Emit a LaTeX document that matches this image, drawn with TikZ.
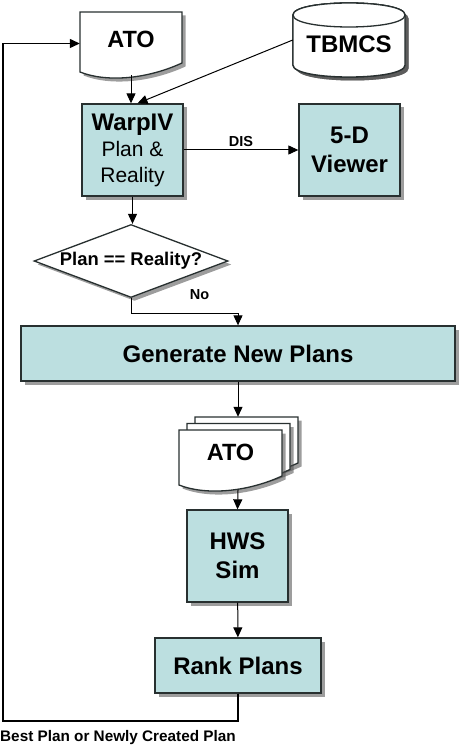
\documentclass[tikz,border=0pt]{standalone}
\usepackage{fontspec}
\setmainfont{Liberation Sans}
\usetikzlibrary{arrows.meta,shapes.geometric,shadows,calc}
\definecolor{boxfill}{RGB}{188,223,224}
\definecolor{rim}{RGB}{40,48,48}
\tikzset{
    flow/.style={-{Triangle[length=10pt,width=9pt]}, line width=1pt},
    boxshadow/.style={drop shadow={shadow xshift=3.5pt, shadow yshift=-3.5pt, fill=black!70, opacity=.55}},
    stepbox/.style={draw=rim, line width=1.3pt, fill=boxfill, boxshadow, align=center, inner sep=0pt,
        font=\bfseries\fontsize{24}{29}\selectfont},
    docline/.style={draw=rim, line width=1.3pt, fill=white, boxshadow},
    doctext/.style={inner sep=0pt, font=\bfseries\fontsize{23.5}{28}\selectfont},
    lbl/.style={inner sep=0pt, font=\bfseries\fontsize{14.5}{17}\selectfont}
}
% page with a wavy lower edge: top left corner, width, left height
\newcommand\docshape[3]{%
    \filldraw[docline, shift={#1}] (0,0) -- (#2,0) -- (#2,#3-9)
        .. controls (#2-37,#3+8) and (25,#3+10) .. (0,#3) -- cycle;}
\begin{document}
\begin{tikzpicture}[x=1pt, y=-1pt]
    \useasboundingbox (0,0) rectangle (466,746);
    % documents and database
    \docshape{(80,12)}{102}{60}
    \foreach \k in {2,1,0}
        \docshape{(179+8*\k,430-6.5*\k)}{103}{55}
    \filldraw[docline] (293,15) -- (293,65) .. controls (293,81) and (405,81) .. (405,65)
        -- (405,15) .. controls (405,-1) and (293,-1) .. (293,15) -- cycle;
    \draw[rim, line width=1.3pt] (293,15) .. controls (293,31) and (405,31) .. (405,15);

    \node[doctext, text height=36pt, text depth=27pt, minimum width=102pt] (ato) at (131,43.5) {ATO};
    \node[doctext, font=\bfseries\fontsize{24}{28}\selectfont, text height=50pt, text depth=24pt,
        minimum width=112pt] (tbmcs) at (349,40) {TBMCS};
    \node[stepbox, minimum width=101pt, minimum height=92pt, font=\fontsize{21}{26}\selectfont]
        (warp) at (132.5,150) {{\bfseries\fontsize{24}{26}\selectfont WarpIV}\\Plan \&\\Reality};
    \node[stepbox, minimum width=101pt, minimum height=92pt] (viewer) at (349.5,150) {5-D\\Viewer};
    \node[diamond, aspect=2.66, draw=rim, line width=1.3pt, fill=white, boxshadow, inner sep=0pt,
        minimum width=194pt, minimum height=73pt, font=\bfseries\fontsize{18.4}{22}\selectfont]
        (decide) at (131,261) {Plan == Reality?};
    \node[lbl] (no) at (199.5,294.5) {No};
    \node[stepbox, minimum width=434pt, minimum height=55pt] (gen) at (238,353.5) {Generate New Plans};
    \node[doctext, text height=30pt, text depth=30pt, minimum width=103pt] (atos) at (230.5,460) {ATO};
    \node[stepbox, minimum width=101pt, minimum height=92pt] (hws) at (237.5,556) {HWS\\Sim};
    \node[stepbox, minimum width=166pt, minimum height=55pt] (rank) at (238,665.5) {Rank Plans};
    \node[lbl, anchor=base west, font=\bfseries\fontsize{15.3}{18}\selectfont] (best) at (0,741.5)
        {Best Plan or Newly Created Plan};
    \coordinate (back) at (3,721);

    % connectors
    \draw[flow] (ato.south) -- (ato.south |- warp.north);
    \draw[flow] (tbmcs.west) -- ($(warp.north)+(5,0)$);
    \draw[flow] (warp) -- node[lbl, above=3pt] (dis) {DIS} (viewer);
    \draw[flow] (warp.south) -- (warp.south |- decide.north);
    \draw[flow] (decide.south) -- ++(0,15) -| (gen.north);
    \draw[flow] (gen.south) -- ($(gen.south |- atos.north)+(0,-13)$);
    \draw[flow] (gen.south |- atos.south) -- (hws.north);
    \draw[flow] (hws) -- (rank);
    \draw[flow, line width=1.3pt] (rank.south) |- (back) |- (ato.west);
\end{tikzpicture}
\end{document}
